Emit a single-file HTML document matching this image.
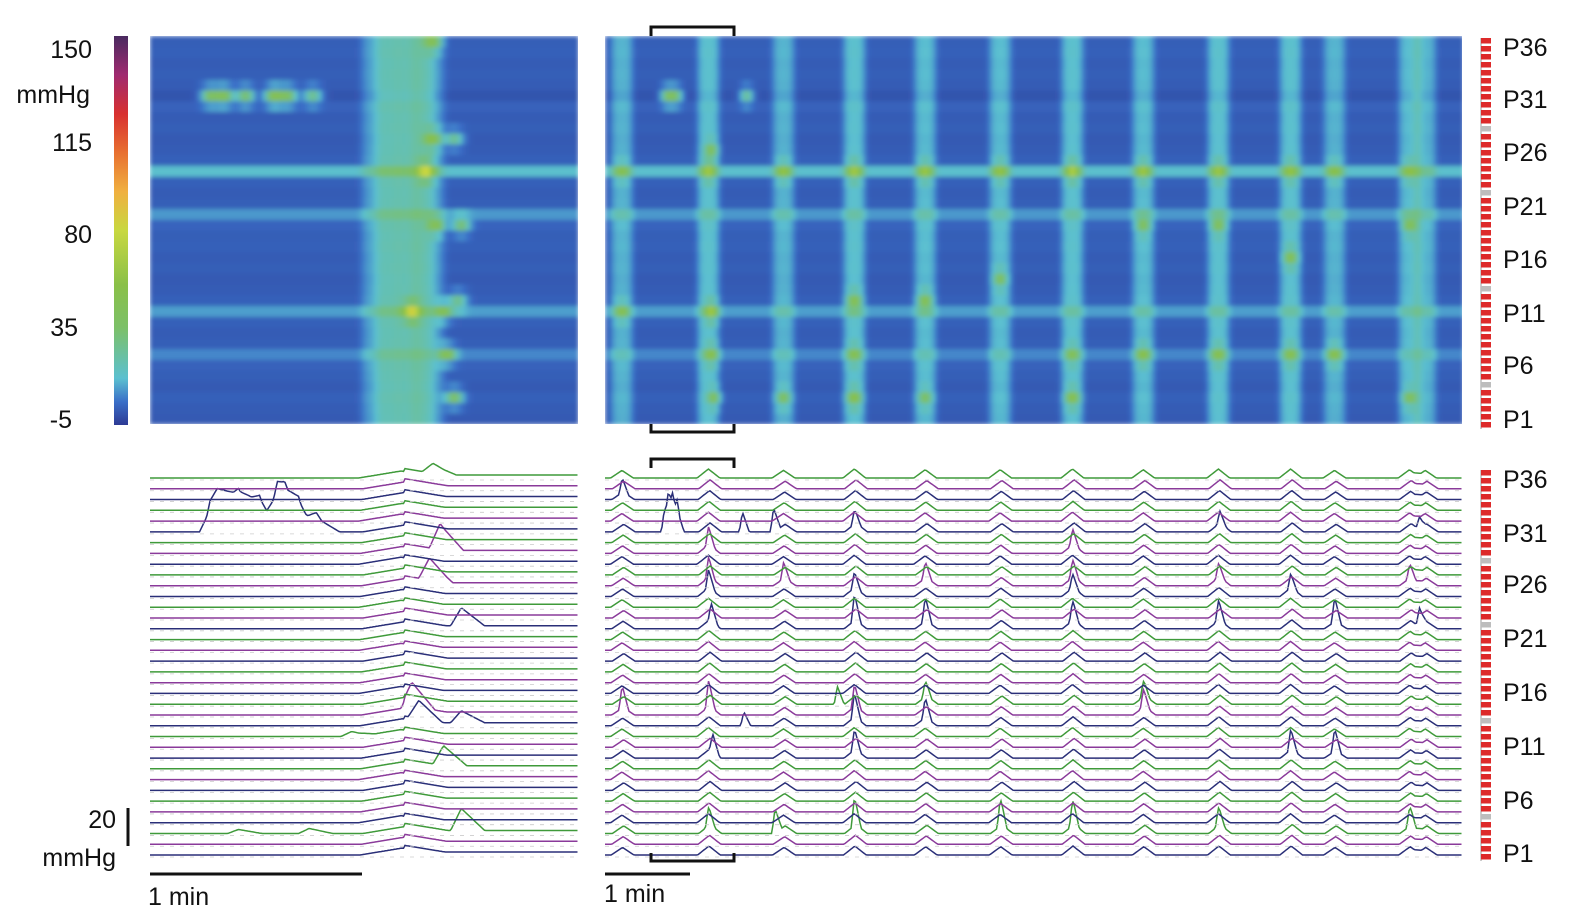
<!DOCTYPE html>
<html><head><meta charset="utf-8">
<style>
html,body{margin:0;padding:0;background:#fff;}
svg{display:block;font-family:"Liberation Sans",sans-serif;}
</style></head>
<body>
<svg id="fig" width="1575" height="917" viewBox="0 0 1575 917" xmlns="http://www.w3.org/2000/svg">
<defs>
<linearGradient id="cbar" x1="0" y1="1" x2="0" y2="0">
<stop offset="0" stop-color="#2d3a94"/><stop offset="0.06" stop-color="#3a6fc8"/>
<stop offset="0.12" stop-color="#5bc0d0"/><stop offset="0.25" stop-color="#7cc068"/>
<stop offset="0.36" stop-color="#8ac048"/><stop offset="0.5" stop-color="#c8d840"/>
<stop offset="0.6" stop-color="#f0b040"/><stop offset="0.7" stop-color="#e87030"/>
<stop offset="0.8" stop-color="#d83030"/><stop offset="0.9" stop-color="#a02a70"/>
<stop offset="1" stop-color="#4a2a60"/>
</linearGradient>
<filter id="blur" x="0" y="0" width="1" height="1"><feGaussianBlur stdDeviation="2.2"/></filter>
<clipPath id="clipL"><rect x="150" y="36" width="428" height="388"/></clipPath>
<clipPath id="clipR"><rect x="605" y="36" width="857" height="388"/></clipPath>
</defs>
<g>
<rect x="114" y="36" width="14" height="389" fill="url(#cbar)"/>
<g font-size="25" text-anchor="end" fill="#111">
<text x="92" y="58">150</text>
<text x="90" y="103">mmHg</text>
<text x="92" y="151">115</text>
<text x="92" y="243">80</text>
<text x="78" y="336">35</text>
<text x="72" y="428">-5</text>
</g></g>
<g id="heatL" clip-path="url(#clipL)"></g>
<g id="heatR" clip-path="url(#clipR)"></g>
<g id="traceL"></g>
<g id="traceR"></g>
<g stroke="#111" stroke-width="3" fill="none">
<path d="M651,36 V27 H734 V36"/><path d="M651,424 V432 H734 V424"/>
<path d="M651,468 V459 H734 V468"/><path d="M651,853 V861 H734 V853"/>
</g>
<g id="strips"></g>
<g id="plabels" font-size="25" fill="#111"></g>
<g fill="#111">
<line x1="128" y1="808" x2="128" y2="846" stroke="#111" stroke-width="3"/>
<text x="116" y="828" font-size="25" text-anchor="end">20</text>
<text x="116" y="866" font-size="25" text-anchor="end">mmHg</text>
<line x1="150" y1="874" x2="362" y2="874" stroke="#111" stroke-width="3"/>
<text x="148" y="905" font-size="25">1 min</text>
<line x1="605" y1="874" x2="690" y2="874" stroke="#111" stroke-width="3"/>
<text x="604" y="902" font-size="25">1 min</text>
</g>
</svg>
<script>
// ---------- data ----------
const channels = 36;
// base pressure per channel (P1..P36), mmHg
const rowBase = [3,4,6,3,5,7,10,5,4,6,12,6,4,3,5,4,6,5,8,13,5,4,6,16,6,4,3,5,4,7,3,4,5,4,6,5];
// channels with persistent bright horizontal bands (extra mmHg)
const rowBandCh = [7,11,20,24,31];
const rowBandAmp = [4,6,5,9,-1];
// left recording: contraction band times (s) and amplitude
const eventsL = [64,68,72,76,79];
const eventsLAmp = [9,10,10,10,9];
// right recording: contraction event times (s)
const eventsR = [12,73,126,176,226,279,330,380,433,484,515,568,579];
const eventsRAmp = [11,13,11,13,12,12,13,12,13,13,11,12,11];
// hotspots [time s, channel, amp mmHg]
const hotL = [[17,31,34],[21,31,38],[27,31,32],[35,31,42],[39,31,34],[46,31,26],[78,24,42],[80,27,34],[86,27,24],[81,19,30],[88,19,28],[74,11,46],[83,11,28],[87,12,24],[84,7,34],[86,3,32],[80,36,28]];
const hotR = [[44,31,30],[50,31,28],[73,24,32],[75,26,24],[75,11,36],[75,7,28],[77,3,24],[100,31,24],[126,24,28],[126,3,24],[176,24,32],[176,12,30],[176,3,34],[176,7,26],[226,24,30],[226,12,30],[226,3,22],[279,24,28],[279,14,24],[330,24,36],[330,3,32],[330,7,22],[380,24,32],[380,19,24],[380,7,30],[433,24,30],[433,7,27],[433,19,24],[484,24,27],[484,16,28],[484,7,26],[515,24,24],[515,7,30],[568,24,26],[568,19,26],[568,3,24],[12,11,24],[12,24,20]];
// trace spikes [time s, channel, amp px]
const spikesL = [[17,31,22],[19,31,28],[22,31,20],[25,31,30],[28,31,18],[31,31,24],[36,31,36],[38,31,26],[42,31,22],[47,31,14],[80,36,10],[82,29,26],[79,26,22],[88,22,18],[74,14,24],[76,13,18],[88,13,12],[83,9,20],[88,3,22],[25,3,4],[45,3,5],[57,12,5]];
const spikesR = [[12,34,14],[42,31,24],[45,31,34],[48,31,28],[51,31,22],[97,31,20],[119,31,24],[176,31,14],[434,31,12],[575,31,10],[73,29,18],[330,29,16],[73,26,20],[126,26,16],[226,26,16],[330,26,18],[433,26,14],[568,26,14],[73,25,18],[176,25,16],[330,25,14],[484,25,14],[75,22,18],[176,22,26],[226,22,24],[330,22,20],[433,22,20],[515,22,24],[575,22,16],[164,15,18],[226,15,16],[380,15,16],[12,14,22],[73,14,26],[176,14,22],[380,14,18],[98,13,14],[176,13,24],[226,13,20],[76,10,18],[176,10,20],[484,10,20],[515,10,22],[73,3,18],[120,3,24],[176,3,28],[279,3,28],[330,3,26],[433,3,18],[568,3,20]];
// grey (inactive) sensor marks, y positions along strip
const greyMarks = [127,193,287,380];

// ---------- helpers ----------
const NS = "http://www.w3.org/2000/svg";
function mk(tag, attrs){ const e=document.createElementNS(NS,tag); for(const k in attrs) e.setAttribute(k,attrs[k]); return e; }
const stops=[[0,[45,58,148]],[0.06,[58,111,200]],[0.12,[91,192,208]],[0.25,[124,192,104]],[0.36,[138,192,72]],[0.5,[200,216,64]],[0.6,[240,176,64]],[0.7,[232,112,48]],[0.8,[216,48,48]],[0.9,[160,42,112]],[1,[74,42,96]]];
function cmap(v){ let n=(v+5)/155; n=Math.max(0,Math.min(1,n));
  for(let i=1;i<stops.length;i++){ if(n<=stops[i][0]){ const a=stops[i-1],b=stops[i],f=(n-a[0])/(b[0]-a[0]);
    return "rgb("+a[1].map((c,j)=>Math.round(c+(b[1][j]-c)*f)).join(",")+")"; } }
  return "rgb(74,42,96)"; }
const heatTop=36, heatBot=424, rowH=(heatBot-heatTop)/channels;
function yRow(ch){ return heatTop+(channels-ch)*rowH; }
function heatValue(t,ch,events,eAmp,hots,bw){
  let v=rowBase[ch-1]*0.35-0.5;
  const bi=rowBandCh.indexOf(ch); if(bi>=0) v+=rowBandAmp[bi];
  for(let i=0;i<events.length;i++){ const d=(t-events[i])/bw; v+=eAmp[i]*Math.exp(-d*d*d*d*0.5); }
  for(const h of hots){ const d=(t-h[0])/(bw*0.7), dr=(ch-h[1])/0.8; v+=h[2]*Math.exp(-d*d-dr*dr); }
  return v; }
function drawHeat(gid,x0,x1,tmax,events,eAmp,hots,bw,cw){
  const g=document.getElementById(gid); const inner=mk("g",{filter:"url(#blur)"}); g.appendChild(inner);
  inner.appendChild(mk("rect",{x:x0,y:heatTop,width:x1-x0,height:heatBot-heatTop,fill:cmap(2)}));
  for(let x=x0;x<x1;x+=cw){ const t=(x+cw/2-x0)/(x1-x0)*tmax;
    for(let ch=1;ch<=channels;ch++){
      const r=mk("rect",{x:x,y:yRow(ch).toFixed(2),width:cw+0.6,height:(rowH+0.6).toFixed(2),fill:cmap(heatValue(t,ch,events,eAmp,hots,bw))});
      inner.appendChild(r); } }
}
drawHeat("heatL",150,578,121,eventsL,eventsLAmp,hotL,3.5,4);
drawHeat("heatR",605,1462,605,eventsR,eventsRAmp,hotR,6.5,3);

// traces
const trTop=478, trBot=855, trStep=(trBot-trTop)/(channels-1);
const colors=["#2a2f78","#8a3a9a","#3f9a3a"];
function traceY(ch){ return trBot-(ch-1)*trStep; }
function drawTraces(gid,x0,x1,tmax,events,eAmp,evScale,evW,spikes,stepL){
  const g=document.getElementById(gid);
  for(let ch=1;ch<=channels;ch++){
    const y0=traceY(ch);
    const dl=mk("line",{x1:x0,x2:x1,y1:y0+2,y2:y0+2,stroke:"#ccc","stroke-width":0.8,"stroke-dasharray":"4 6"});
    g.appendChild(dl);
    let pts=[];
    for(let x=x0;x<=x1;x+=1.5){ const t=(x-x0)/(x1-x0)*tmax; let v=0;
      for(let i=0;i<events.length;i++){ const d=Math.abs(t-events[i]-(ch%4)*0.4); if(d<evW) v+=evScale*eAmp[i]/13*(1-d/evW); }
      if(stepL && t>stepL[0]) v+=stepL[1];
      for(const s of spikes){ if(s[1]!==ch) continue; const d=(t-s[0]); const w=stepL?3:2.2;
        if(d>-w && d<w*2.2) v+= s[2]*(d<0?1+d/w:1-d/(w*2.2)); }
      pts.push(x.toFixed(1)+","+(y0-v).toFixed(1)); }
    const p=mk("polyline",{points:pts.join(" "),fill:"none",stroke:colors[(ch-1)%3],"stroke-width":1.5});
    
    
    g.appendChild(p); }
}
drawTraces("traceL",150,578,121,[71],[13],7,12,spikesL,[72,3]);
drawTraces("traceR",605,1462,605,eventsR,eventsRAmp,9,8,spikesR,null);

// sensor strips + labels
const strips=document.getElementById("strips");
[[38,425],[470,857]].forEach((r,k)=>{
  const off = k===0?0:432;
  strips.appendChild(mk("line",{x1:1481,x2:1481,y1:r[0],y2:r[1]+4,stroke:"#999","stroke-width":1}));
  for(let y=r[0];y<r[1];y+=8){
    const grey=greyMarks.some(gy=>Math.abs(gy+off-y)<4);
    const s=mk("rect",{x:1481,y:y,width:10,height:5.5,fill:grey?"#bdbdbd":"#dd2a2a"});
    
    
    strips.appendChild(s); } });
const plabels=document.getElementById("plabels");
const labelCh=[36,31,26,21,16,11,6,1];
const topY=[56,108,161,215,268,322,374,428], botY=[488,542,593,647,701,755,809,862];
labelCh.forEach((c,i)=>{
  [topY[i],botY[i]].forEach((y,k)=>{
    const t=mk("text",{x:1503,y:y}); t.textContent="P"+c;
    
    
    plabels.appendChild(t); }); });
</script>
</body></html>
